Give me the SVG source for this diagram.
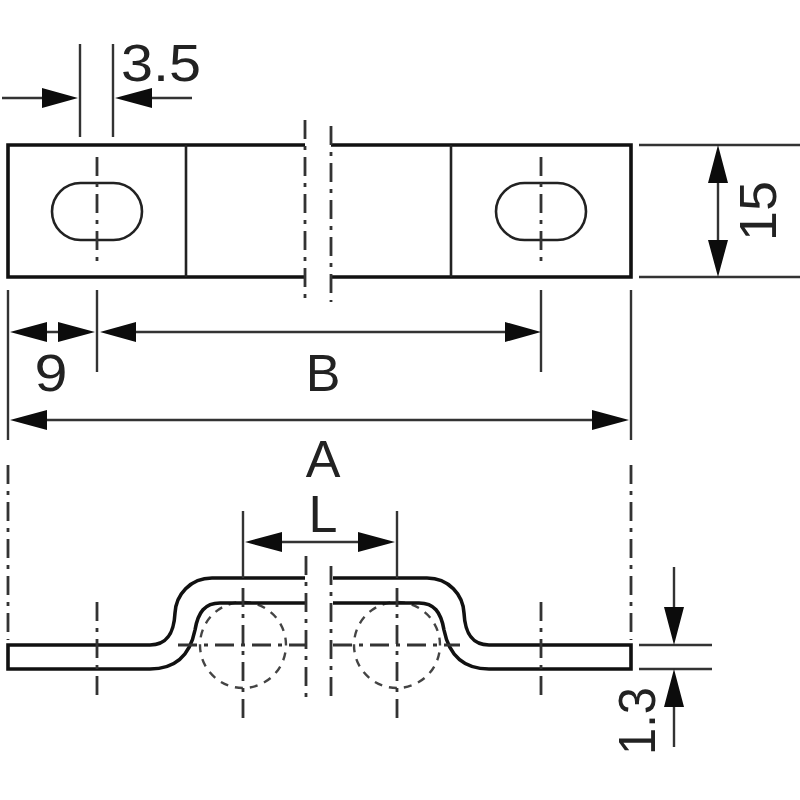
<svg xmlns="http://www.w3.org/2000/svg" width="800" height="800" viewBox="0 0 800 800">
<style>
.o{fill:none;stroke:#111;stroke-width:3.6}
.b{fill:none;stroke:#222;stroke-width:2.6}
.d{fill:none;stroke:#333;stroke-width:2.4}
.c{fill:none;stroke:#333;stroke-width:2.8;stroke-dasharray:19 7 4 7}
.k{fill:none;stroke:#444;stroke-width:2.4;stroke-dasharray:8 7}
.a{fill:#0c0c0c}
text{font-family:"Liberation Sans",Arial,sans-serif;font-size:52px;fill:#222;text-anchor:middle}
</style>
<rect width="800" height="800" fill="#fff"/>
<g id="plan">
<path class="o" d="M305 145H8V277H305M331 145H631V277H331"/>
<path class="b" d="M186 145V277M451 145V277"/>
<rect class="b" x="52" y="183" width="90" height="57" rx="28.5"/>
<rect class="b" x="496" y="183" width="90" height="57" rx="28.5"/>
<path class="c" d="M97 157V262M541 157V262"/>
<path class="c" d="M305 120V302M331 126V302"/>
</g>
<g id="profile">
<path class="k" d="M243 602A43 43 0 1 1 243 688A43 43 0 1 1 243 602Z"/>
<path class="k" d="M397 602A43 43 0 1 1 397 688A43 43 0 1 1 397 602Z"/>
<path class="o" d="M305 578H212C190 578 176 595 175 613C174 632 168 645 150 645H8V669H150C175 669 190 655 195 630C198 612 205 603 220 603H305"/>
<path class="o" d="M333 578H427C449 578 463 595 464 613C465 632 471 645 489 645H631V669H489C464 669 449 655 444 630C441 612 434 603 419 603H333"/>
<path class="c" d="M178 645H305M333 645H460"/>
<path class="c" d="M243 588V720M397 588V720M97 602V700M541 602V700M306 556V700M331 566V700"/>
<path class="c" d="M8 465V640M631 465V640"/>
</g>
<g id="dimensions">
<path class="d" d="M80 44V137M113 44V137M2 98H42M152 98H192"/>
<path class="d" d="M639 145H800M639 277H800M718 183V240"/>
<path class="d" d="M8 290V440M97 290V372M541 290V372M631 290V440"/>
<path class="d" d="M47 332H58M136 332H505M47 420H592"/>
<path class="d" d="M243 511V578M397 511V578M282 542H358"/>
<path class="d" d="M639 645H712M639 669H712M674 567V607M674 707V747"/>
<path class="a" d="M78 98L42 88V108ZM115 98L152 88V108Z"/>
<path class="a" d="M718 145L708 183H728ZM718 277L708 240H728Z"/>
<path class="a" d="M10 332L47 322V342ZM95 332L58 322V342ZM100 332L136 322V342ZM541 332L505 322V342Z"/>
<path class="a" d="M10 420L47 410V430ZM629 420L592 410V430Z"/>
<path class="a" d="M245 542L282 532V552ZM395 542L358 532V552Z"/>
<path class="a" d="M674 645L664 607H684ZM674 669L664 707H684Z"/>
</g>
<g id="labels">
<text x="161" y="81" textLength="80" lengthAdjust="spacingAndGlyphs">3.5</text>
<text transform="translate(776 211) rotate(-90)" textLength="60" lengthAdjust="spacingAndGlyphs">15</text>
<text x="51" y="391" textLength="33" lengthAdjust="spacingAndGlyphs">9</text>
<text x="323" y="391">B</text>
<text x="323" y="477">A</text>
<text x="323" y="532">L</text>
<text transform="translate(655 721) rotate(-90)" textLength="68" lengthAdjust="spacingAndGlyphs">1.3</text>
</g>
</svg>
